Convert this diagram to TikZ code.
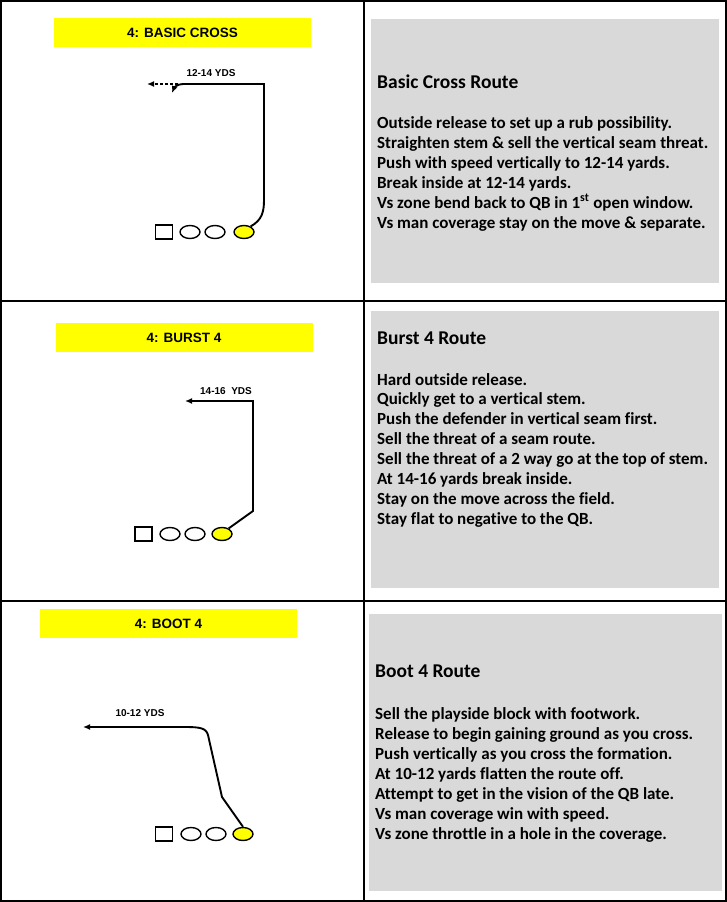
\documentclass[tikz,border=0pt]{standalone}
\usepackage{fontspec}
\setmainfont[Ligatures=NoCommon]{Carlito}
\newfontfamily\tagfont{Liberation Sans}
\usetikzlibrary{shapes.geometric,arrows.meta}
\definecolor{panelgray}{HTML}{D9D9D9}
\definecolor{tagyellow}{HTML}{FFFF00}

\begin{document}
\begin{tikzpicture}[x=1pt,y=-1pt,
  tableline/.style={black, line width=1.2pt},
  tag/.style={fill=tagyellow, minimum width=257pt, minimum height=29pt, inner sep=0pt,
    font=\tagfont\bfseries\fontsize{13.5}{15}\selectfont},
  yds/.style={inner sep=0pt, font=\tagfont\bfseries\fontsize{10}{12}\selectfont},
  heading/.style={anchor=base west, inner sep=0pt, font=\bfseries\fontsize{19.5}{22}\selectfont},
  note/.style={anchor=base west, inner sep=0pt, font=\bfseries\fontsize{17}{20}\selectfont},
  snapper/.style={draw, line width=1.4pt, minimum width=17pt, minimum height=14pt, inner sep=0pt},
  lineman/.style={ellipse, draw, line width=1.4pt, minimum width=20pt, minimum height=13pt, inner sep=0pt},
  receiver/.style={lineman, fill=tagyellow},
  route/.style={line width=1.9pt, -{Latex[length=7pt,width=6pt]}}]
\useasboundingbox (0,0) rectangle (727,902);

\fill[panelgray] (371,19) rectangle (719,283);
\fill[panelgray] (371,311) rectangle (719,588);
\fill[panelgray] (369,614) rectangle (722,891);
\draw[tableline] (1,1) rectangle (726,901);
\draw[tableline] (364,1) -- (364,901);
\draw[tableline] (1,301) -- (726,301);
\draw[tableline] (1,601) -- (726,601);

% basic cross
\node[tag] (tag1) at (182.5,32.5) {4: BASIC CROSS};
\node[snapper] (c1) at (164,232) {};
\node[lineman] (g1) at (190,232) {};
\node[lineman] (t1) at (215,232) {};
\node[receiver] (r1) at (244,232) {};
\coordinate (break1) at (264,84);
\coordinate (end1) at (172,93);
\coordinate (alt1) at (147,84);
\draw[route] (r1.40) .. controls (262,220) and (264,212) .. (264,200) -- (break1)
  -- (183,84) .. controls (177,84) and (174,88) .. (end1);
\draw[route, dash pattern=on 3pt off 2pt] (178,84) -- (alt1);
\node[yds] (yds1) at (211,73) {12-14 YDS};
\node[heading] (head1) at (377,88) {Basic Cross Route};
\foreach \txt [count=\i] in {Outside release to set up a rub possibility.,
  Straighten stem \& sell the vertical seam threat.,
  Push with speed vertically to 12-14 yards.,
  Break inside at 12-14 yards.,
  Vs zone bend back to QB in 1\textsuperscript{st} open window.,
  Vs man coverage stay on the move \& separate.}
  \node[note] (a\i) at (377,{128+20*(\i-1)}) {\txt};

% burst 4
\node[tag] (tag2) at (184,337.5) {4: BURST 4};
\node[snapper] (c2) at (143.5,534) {};
\node[lineman] (g2) at (170,534) {};
\node[lineman] (t2) at (195,534) {};
\node[receiver] (r2) at (222,534) {};
\coordinate (stem2) at (253,511);
\coordinate (break2) at (253,401);
\coordinate (end2) at (185,401);
\draw[route] (r2.40) -- (stem2) -- (break2) -- (end2);
\node[yds] (yds2) at (226,391) {14-16~~YDS};
\node[heading] (head2) at (377,344) {Burst 4 Route};
\foreach \txt [count=\i] in {Hard outside release.,
  Quickly get to a vertical stem.,
  Push the defender in vertical seam first.,
  Sell the threat of a seam route.,
  Sell the threat of a 2 way go at the top of stem.,
  At 14-16 yards break inside.,
  Stay on the move across the field.,
  Stay flat to negative to the QB.}
  \node[note] (b\i) at (377,{385+19.9*(\i-1)}) {\txt};

% boot 4
\node[tag] (tag3) at (168.5,623.5) {4: BOOT 4};
\node[snapper] (c3) at (164,834) {};
\node[lineman] (g3) at (191,834) {};
\node[lineman] (t3) at (216,834) {};
\node[receiver] (r3) at (243,834) {};
\coordinate (stem3) at (222,797);
\coordinate (break3) at (208,735);
\coordinate (end3) at (83,727);
\draw[route] (r3.north) -- (stem3) -- (break3) .. controls (206,728) and (200,727) .. (185,727) -- (end3);
\node[yds] (yds3) at (140,713) {10-12 YDS};
\node[heading] (head3) at (375,677) {Boot 4 Route};
\foreach \txt [count=\i] in {Sell the playside block with footwork.,
  Release to begin gaining ground as you cross.,
  Push vertically as you cross the formation.,
  At 10-12 yards flatten the route off.,
  Attempt to get in the vision of the QB late.,
  Vs man coverage win with speed.,
  Vs zone throttle in a hole in the coverage.}
  \node[note] (c\i) at (375,{719+20*(\i-1)}) {\txt};
\end{tikzpicture}
\end{document}
